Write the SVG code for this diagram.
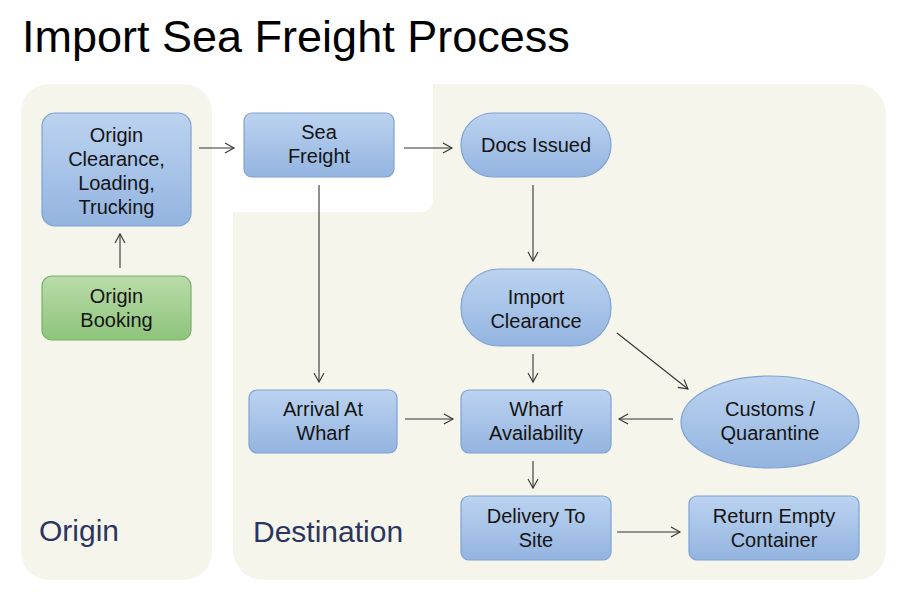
<svg xmlns="http://www.w3.org/2000/svg" width="907" height="599" viewBox="0 0 907 599">
<defs>
<linearGradient id="gBlue" x1="0" y1="0" x2="0" y2="1">
<stop offset="0" stop-color="#bcd3f0"/>
<stop offset="1" stop-color="#93b4e0"/>
</linearGradient>
<linearGradient id="gGreen" x1="0" y1="0" x2="0" y2="1">
<stop offset="0" stop-color="#b9dca9"/>
<stop offset="1" stop-color="#8ec47c"/>
</linearGradient>
<marker id="arr" markerUnits="userSpaceOnUse" markerWidth="14" markerHeight="14" refX="10" refY="6" orient="auto">
<path d="M1,1 L10,6 L1,11" fill="none" stroke="#333" stroke-width="1.1"/>
</marker>
<style>
.panel{fill:#f6f5ec;}
.blue{fill:url(#gBlue);stroke:#7ea2d3;stroke-width:1.2;}
.green{fill:url(#gGreen);stroke:#78b165;stroke-width:1.2;}
.lbl{font-family:"Liberation Sans",Arial,sans-serif;font-size:20px;fill:#141414;text-anchor:middle;}
.sec{font-family:"Liberation Sans",Arial,sans-serif;font-size:30px;fill:#2b355f;}
.title{font-family:"Liberation Sans",Arial,sans-serif;font-size:45px;fill:#000;}
.con{fill:none;stroke:#333;stroke-width:1.1;marker-end:url(#arr);}
</style>
</defs>
<rect width="907" height="599" fill="#ffffff"/>
<text class="title" x="22" y="52">Import Sea Freight Process</text>
<g id="panel-origin">
<rect class="panel" x="21" y="84" width="191" height="496" rx="28"/>
<text class="sec" x="39" y="541">Origin</text>
</g>
<g id="panel-destination">
<path class="panel" d="M433,84 H856 A30,30 0 0 1 886,114 V550 A30,30 0 0 1 856,580 H263 A30,30 0 0 1 233,550 V212 H421 A12,12 0 0 0 433,200 Z"/>
<text class="sec" x="253" y="542">Destination</text>
</g>
<g id="connectors">
<line class="con" x1="120" y1="268" x2="120" y2="234"/>
<line class="con" x1="199" y1="148" x2="234" y2="148"/>
<line class="con" x1="404" y1="148" x2="452" y2="148"/>
<line class="con" x1="319" y1="185" x2="319" y2="382"/>
<line class="con" x1="533" y1="185" x2="533" y2="261"/>
<line class="con" x1="533" y1="354" x2="533" y2="382"/>
<line class="con" x1="617" y1="333" x2="688" y2="389"/>
<line class="con" x1="405" y1="419" x2="453" y2="419"/>
<line class="con" x1="673" y1="419" x2="619" y2="419"/>
<line class="con" x1="533" y1="461" x2="533" y2="488"/>
<line class="con" x1="617" y1="532" x2="680" y2="532"/>
</g>
<g id="origin-clearance">
<rect class="blue" x="42" y="113" width="149" height="113" rx="13"/>
<text class="lbl" x="116.5" y="142">Origin</text>
<text class="lbl" x="116.5" y="166">Clearance,</text>
<text class="lbl" x="116.5" y="190">Loading,</text>
<text class="lbl" x="116.5" y="214">Trucking</text>
</g>
<g id="origin-booking">
<rect class="green" x="42" y="276" width="149" height="64" rx="10"/>
<text class="lbl" x="116.5" y="303">Origin</text>
<text class="lbl" x="116.5" y="327">Booking</text>
</g>
<g id="sea-freight">
<rect class="blue" x="244" y="113" width="150" height="64" rx="8"/>
<text class="lbl" x="319" y="139">Sea</text>
<text class="lbl" x="319" y="163">Freight</text>
</g>
<g id="docs-issued">
<rect class="blue" x="461" y="113" width="150" height="64" rx="32"/>
<text class="lbl" x="536" y="152">Docs Issued</text>
</g>
<g id="import-clearance">
<rect class="blue" x="461" y="269" width="150" height="77" rx="38"/>
<text class="lbl" x="536" y="304">Import</text>
<text class="lbl" x="536" y="328">Clearance</text>
</g>
<g id="arrival-at-wharf">
<rect class="blue" x="249" y="390" width="148" height="63" rx="8"/>
<text class="lbl" x="323" y="416">Arrival At</text>
<text class="lbl" x="323" y="440">Wharf</text>
</g>
<g id="wharf-availability">
<rect class="blue" x="461" y="390" width="150" height="63" rx="8"/>
<text class="lbl" x="536" y="416">Wharf</text>
<text class="lbl" x="536" y="440">Availability</text>
</g>
<g id="customs-quarantine">
<ellipse class="blue" cx="770" cy="422" rx="89" ry="46"/>
<text class="lbl" x="770" y="416">Customs /</text>
<text class="lbl" x="770" y="440">Quarantine</text>
</g>
<g id="delivery-to-site">
<rect class="blue" x="461" y="496" width="150" height="64" rx="8"/>
<text class="lbl" x="536" y="523">Delivery To</text>
<text class="lbl" x="536" y="547">Site</text>
</g>
<g id="return-empty-container">
<rect class="blue" x="689" y="496" width="170" height="64" rx="8"/>
<text class="lbl" x="774" y="523">Return Empty</text>
<text class="lbl" x="774" y="547">Container</text>
</g>
</svg>
